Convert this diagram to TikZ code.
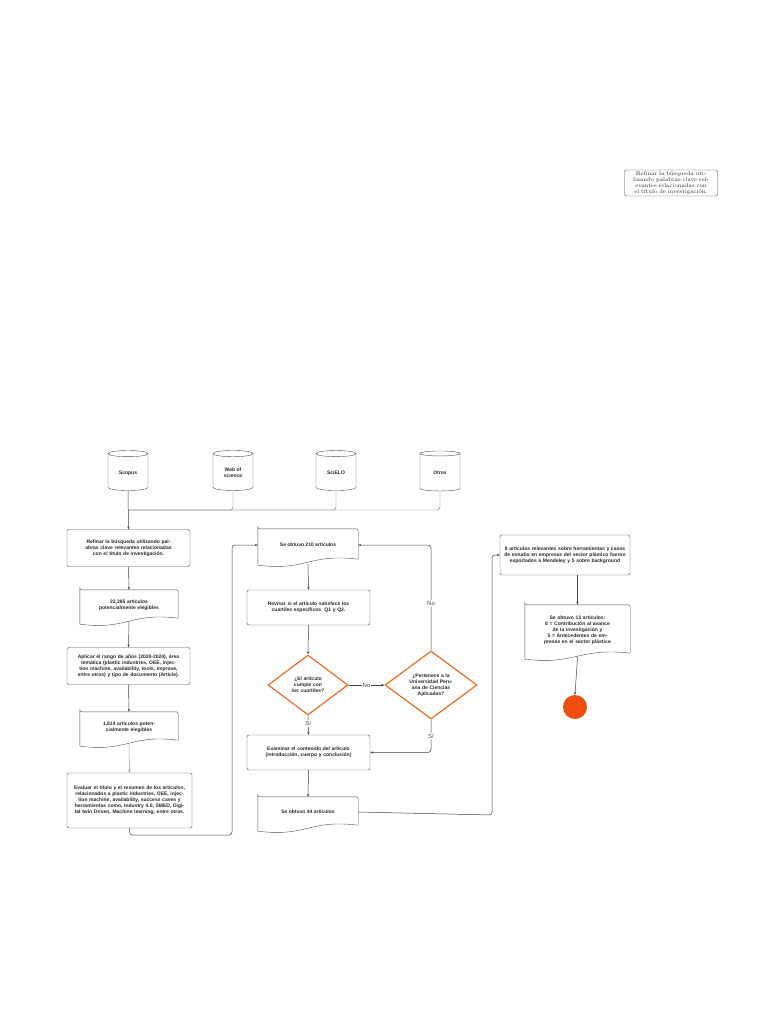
\documentclass[tikz,border=0pt]{standalone}
\usepackage{fontspec}
\setmainfont{Liberation Sans}
\usetikzlibrary{shapes.geometric,calc,arrows.meta}
\definecolor{orng}{HTML}{F26B21}
\definecolor{dotred}{HTML}{F04E0F}
\tikzset{
 every node/.style={font=\fontsize{5}{6}\selectfont\bfseries, align=center, text=black!85},
 boxn/.style={draw=black!70, rounded corners=2pt, line width=0.4pt, fill=white, inner sep=1pt},
 docn/.style={inner sep=1pt},
 cyl/.style={cylinder, shape border rotate=90, aspect=0.25, draw=black!70, minimum width=40pt, minimum height=40pt, line width=0.4pt},
 dia/.style={diamond, draw=orng, line width=1.2pt, aspect=1.35, inner sep=0pt},
 arr/.style={-{Stealth[length=3pt]}, draw=black!75, line width=0.5pt},
 ln/.style={draw=black!55, line width=0.4pt, rounded corners=3pt},
 lbl/.style={fill=white, inner sep=1pt, font=\fontsize{6}{7}\selectfont, text=black!70}
}
\newcommand{\docdraw}[1]{%
 \draw[draw=black!70, line width=0.4pt] ($(#1.south west)+(0,4)$) -- ($(#1.north west)+(0,-2)$) [rounded corners=2pt]-- (#1.north west) -- (#1.north east) [sharp corners]-- ($(#1.south east)+(0,-2)$)
 .. controls ($(#1.south)+(0,-8)$) and ($(#1.south)+(0,10)$) .. ($(#1.south west)+(0,4)$);}
\begin{document}
\begin{tikzpicture}[x=1pt,y=-1pt]
\useasboundingbox (0,0) rectangle (768,1024);
% top-right stray box
\node[boxn, font=\fontfamily{lmr}\fontsize{5.5}{6}\selectfont, text width=90pt, inner sep=1.5pt] (tr) at (671,183) {Refinar la búsqueda utilizando palabras clave relevantes relacionadas con el título de investigación.};
% cylinders
\node[cyl] (sc) at (128,473) {Scopus};
\node[cyl] (wos) at (233,473) {Web of\\science};
\node[cyl] (sci) at (336,473) {SciELO};
\node[cyl] (otr) at (440,473) {Otros};
\coordinate (j) at (128,510);
\draw[ln] (wos.bottom) |- (j);
\draw[ln] (sci.bottom) |- (j);
\draw[ln] (otr.bottom) |- (j);
% left column
\node[boxn, minimum width=123pt, minimum height=37pt, text width=120pt] (ref) at (128.5,548) {Refinar la búsqueda utilizando palabras clave relevantes relacionadas con el título de investigación.};
\draw[arr] (sc.bottom) -- (ref.north);
\node[docn, minimum width=98pt, minimum height=30pt, text width=94pt] (d1) at (129,605) {22,385 artículos\\potencialmente elegibles};
\docdraw{d1}
\draw[arr] (ref.south) -- (d1.north);
\node[boxn, minimum width=123pt, minimum height=37pt, text width=121pt] (apl) at (128.5,666) {Aplicar el rango de años (2020-2024), área temática (plastic industries, OEE, injection machine, availability, tools, improve, entre otros) y tipo de documento (Article).};
\draw[arr] (d1.south) ++(0,2) -- (apl.north);
\node[docn, minimum width=98pt, minimum height=30pt, text width=96pt] (d2) at (129,727) {1,814 artículos potencialmente elegibles};
\docdraw{d2}
\draw[arr] (apl.south) -- (d2.north);
\node[boxn, minimum width=125pt, minimum height=55pt, text width=123pt] (eva) at (129.5,800.5) {Evaluar el título y el resumen de los artículos, relacionados a plastic industries, OEE, injection machine, availability, success cases y herramientas como, Industry 4.0, SMED, Digital twin Driven, Machine learning, entre otras.};
\draw[arr, draw=black!40] (d2.south) ++(0,2) -- (eva.north);
% middle column
\node[docn, minimum width=100pt, minimum height=32pt] (d3) at (308,545) {Se obtuvo 210 artículos};
\docdraw{d3}
\draw[ln, arr] (eva.south) |- (232,835) |- (d3.west);
\node[boxn, minimum width=123pt, minimum height=35pt, text width=121pt] (rev) at (308.5,607.5) {Revisar si el artículo satisface los cuartiles específicos\ \ Q1 y Q2.};
\draw[arr] (d3.south) ++(0,3) -- (rev.north);
\node[dia, minimum width=80pt, minimum height=60pt, text width=40pt] (q1) at (308,685) {¿El artículo cumple con los cuartiles?};
\draw[arr] (rev.south) -- (q1.north);
\node[dia, minimum width=92pt, minimum height=68pt, text width=44pt] (q2) at (431,685) {¿Pertenece a la Universidad Peruana de Ciencias Aplicadas?};
\draw[arr] (q1.east) -- node[lbl] {No} (q2.east-|q2.west);
\node[boxn, minimum width=123pt, minimum height=35pt, text width=121pt] (exa) at (308.5,752.5) {Examinar el contenido del artículo (introducción, cuerpo y conclusión)};
\draw[arr] (q1.south) -- node[lbl,pos=0.4] {Sí} (exa.north);
\draw[ln, arr] (q2.south) -- node[lbl,pos=0.5] {Sí} (q2.south|-exa.east) -- (exa.east);
\draw[ln, arr] (q2.north) -- node[lbl,pos=0.45] {No} (q2.north|-d3.east) -- (d3.east);
\node[docn, minimum width=100pt, minimum height=30pt] (d4) at (308,812) {Se obtuvo 44 artículos};
\docdraw{d4}
\draw[arr] (exa.south) -- (d4.north);
% right column
\node[boxn, minimum width=130pt, minimum height=40pt, text width=128pt] (ocho) at (565,555) {8 artículos relevantes sobre herramientas y casos de estudio en empresas del sector plástico fueron exportados a Mendeley y 5 sobre background};
\draw[ln, arr] (d4.east) -- (492,815) |- (ocho.west);
\node[docn, minimum width=105pt, minimum height=50pt, text width=103pt] (d5) at (577.5,630) {Se obtuvo 13 artículos:\\8 = Contribución al avance de la investigación y\\5 = Antecedentes de empresas en el sector plástico};
\docdraw{d5}
\draw[arr] (ocho.south-|d5.north) -- (d5.north);
\node[circle, fill=dotred, minimum size=24pt, inner sep=0pt] (fin) at (575,707) {};
\draw[arr] (d5.south) ++(0,2) -- (fin.north);
\end{tikzpicture}
\end{document}
